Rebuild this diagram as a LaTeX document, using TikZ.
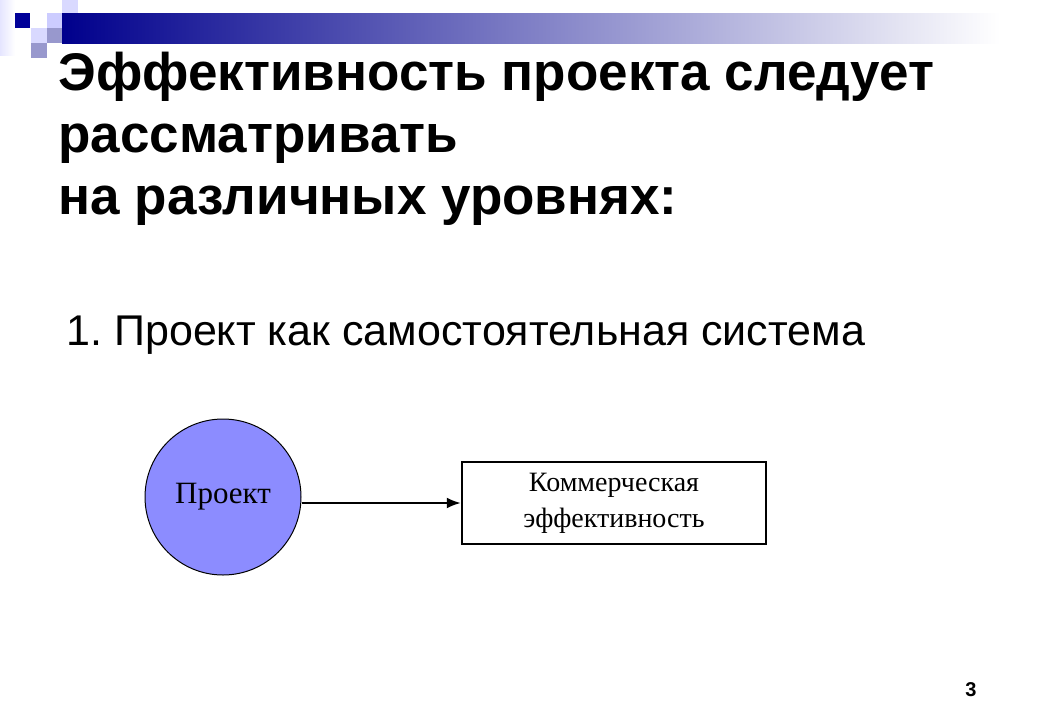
\documentclass[tikz,border=0pt]{standalone}
\usepackage{fontspec}
\setmainfont{Liberation Serif}
\newfontfamily\arialfont{Liberation Sans}
\usetikzlibrary{arrows.meta}
\frenchspacing
\tikzset{
  sq/.style={fill=#1,draw=none},
  titletext/.style={anchor=base west,font=\arialfont\bfseries\fontsize{53}{60}\selectfont,align=left},
  projnode/.style={circle,draw,line width=1pt,fill=blue!45!white,minimum size=156pt,inner sep=0pt,font=\fontsize{31}{36}\selectfont},
  effbox/.style={draw,line width=2.5pt,minimum width=304pt,minimum height=82pt,align=center,font=\fontsize{28}{36}\selectfont}
}
\begin{document}
\begin{tikzpicture}[x=1pt,y=-1pt]
  \useasboundingbox (0,0) rectangle (1040,720);
  % corner squares and bar
  \shade[left color=blue!10,right color=white] (0,0) rectangle (15,55);
  \fill[sq=blue!15!white] (62,0) rectangle (78,13);
  \fill[sq=blue!60!black] (15,13) rectangle (30,28);
  \fill[sq=blue!20!white] (47,13) rectangle (62,28);
  \fill[sq=blue!40!gray!60] (62,13) rectangle (78,28);
  \fill[sq=blue!15!white] (31,28) rectangle (47,43);
  \fill[sq=blue!35!gray!60] (47,28) rectangle (62,43);
  \fill[sq=blue!35!gray!60] (31,43) rectangle (47,58);
  \shade[left color=blue!55!black,right color=white] (62,13) rectangle (1000,43);
  % title
  \node[titletext] (title1) at (55,90) {Эффективность проекта следует};
  \node[titletext] (title2) at (55,152) {рассматривать};
  \node[titletext] (title3) at (55,214) {на различных уровнях:};
  \node[anchor=base west,font=\arialfont\fontsize{43}{48}\selectfont] (level) at (63,345) {1. Проект как самостоятельная система};
  % diagram
  \node[projnode] (proj) at (223,497) {Проект};
  \node[effbox] (eff) at (614,503) {Коммерческая\\эффективность};
  \draw[line width=2pt,-{Latex[length=14pt,width=11pt]}] (proj.east |- eff.west) -- (eff.west);
  \node[font=\arialfont\bfseries\fontsize{20}{22}\selectfont] (pnum) at (971,690) {3};
\end{tikzpicture}
\end{document}
